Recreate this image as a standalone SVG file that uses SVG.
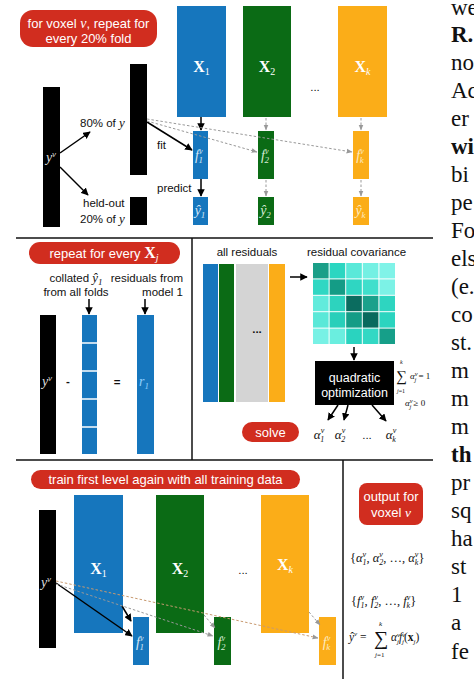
<svg xmlns="http://www.w3.org/2000/svg" width="474" height="679" viewBox="0 0 474 679">
<defs>
<style>
.pill{fill:#d12d1f}
.pt{font-family:"Liberation Sans",Arial,sans-serif;font-size:13px;fill:#fff;text-anchor:middle}
.lb{font-family:"Liberation Sans",Arial,sans-serif;font-size:11.5px;fill:#111}
.mid{text-anchor:middle}
.end{text-anchor:end}
.mi{font-family:"Liberation Serif","Times New Roman",serif;font-style:italic}
.xl{font-family:"Liberation Serif","Times New Roman",serif;font-weight:bold;font-size:16px;fill:#fff;text-anchor:middle}
.sb{font-size:10px;font-weight:normal}
.blue{fill:#1676bd}
.green{fill:#0b6b15}
.orange{fill:#fbad18}
.blk{fill:#000}
.ml{font-family:"Liberation Serif","Times New Roman",serif;font-style:italic;text-anchor:middle}
.m{font-family:"Liberation Serif","Times New Roman",serif;font-style:italic;fill:#111}
.sep{stroke:#111;stroke-width:1.5;fill:none}
.arr{stroke:#000;stroke-width:1.5;fill:none;marker-end:url(#ah)}
.dsh{stroke:#999;stroke-width:1;stroke-dasharray:2.5 2;fill:none;marker-end:url(#ag)}
.dsht{stroke:#c89a70;stroke-width:1;stroke-dasharray:2.5 2;fill:none;marker-end:url(#ag)}
.col{font-family:"Liberation Serif","Times New Roman",serif;font-size:23px;fill:#111}
.bd{font-weight:bold}
.wt{fill:#fff;font-family:"Liberation Sans",Arial,sans-serif;font-size:12.5px;text-anchor:middle}
</style>
<marker id="ah" viewBox="0 0 10 10" refX="9" refY="5" markerWidth="5" markerHeight="5" orient="auto"><path d="M0,0L10,5L0,10z" fill="#000"/></marker>
<marker id="ag" viewBox="0 0 10 10" refX="9" refY="5" markerWidth="6" markerHeight="6" orient="auto"><path d="M0,1L10,5L0,9z" fill="#999"/></marker>
</defs>
<rect width="474" height="679" fill="#fff"/>

<g id="separators">
<line class="sep" x1="16" y1="238" x2="433" y2="238"/>
<line class="sep" x1="192" y1="238" x2="192" y2="460"/>
<line class="sep" x1="16" y1="460" x2="433" y2="460"/>
<line class="sep" x1="343" y1="460" x2="343" y2="679"/>
</g>

<!-- ===== TOP SECTION ===== -->
<g id="banner-fold">
<rect class="pill" x="20" y="10" width="137" height="37" rx="13"/>
<text class="pt" x="88.5" y="27.5">for voxel <tspan class="mi" font-size="14">v</tspan>, repeat for</text>
<text class="pt" x="88.5" y="43">every 20% fold</text>
</g>
<g id="X1-top"><rect class="blue" x="177" y="6" width="49" height="111"/><text class="xl" x="201.5" y="72">X<tspan class="sb" dy="3">1</tspan></text></g>
<g id="X2-top"><rect class="green" x="243" y="6" width="48" height="111"/><text class="xl" x="267" y="72">X<tspan class="sb" dy="3">2</tspan></text></g>
<g id="dots-top"><text class="lb mid" x="315" y="91" font-size="11">...</text></g>
<g id="Xk-top"><rect class="orange" x="338" y="6" width="49" height="111"/><text class="xl" x="362.5" y="72">X<tspan class="sb mi" dy="3">k</tspan></text></g>

<g id="y-top"><rect class="blk" x="43" y="87" width="17" height="140"/><text class="ml" x="51" y="162" font-size="14" fill="#ddd">y<tspan font-size="9" dy="-5">v</tspan></text></g>
<g id="y80"><rect class="blk" x="130" y="64" width="17" height="111"/></g>
<g id="y20"><rect class="blk" x="130" y="197" width="17" height="28"/></g>
<text class="lb" x="80" y="127">80% of <tspan class="mi" font-size="13">y</tspan></text>
<text class="lb" x="83" y="207">held-out</text>
<text class="lb" x="80" y="223">20% of <tspan class="mi" font-size="13">y</tspan></text>
<text class="lb" x="157" y="149">fit</text>
<text class="lb" x="157" y="192">predict</text>

<g id="f1-top"><rect class="blue" x="193" y="131" width="15" height="48"/><text class="ml" x="199" y="160" font-size="14" fill="#d6e8f6">f<tspan font-size="8" dy="-6">v</tspan><tspan font-size="9" dx="-4" dy="9">1</tspan></text></g>
<g id="f2-top"><rect class="green" x="258" y="131" width="16" height="48"/><text class="ml" x="265" y="160" font-size="14" fill="#d6ecd6">f<tspan font-size="8" dy="-6">v</tspan><tspan font-size="9" dx="-4" dy="9">2</tspan></text></g>
<g id="fk-top"><rect class="orange" x="353" y="131" width="16" height="48"/><text class="ml" x="360" y="160" font-size="14" fill="#fdebc0">f<tspan font-size="8" dy="-6">v</tspan><tspan font-size="9" dx="-4" dy="9">k</tspan></text></g>
<g id="yh1-top"><rect class="blue" x="193" y="197" width="15" height="28"/><text class="ml" x="200" y="215" font-size="14" fill="#d6e8f6">ŷ<tspan font-size="9" dy="3">1</tspan></text></g>
<g id="yh2-top"><rect class="green" x="258" y="197" width="16" height="28"/><text class="ml" x="265.5" y="215" font-size="14" fill="#d6ecd6">ŷ<tspan font-size="9" dy="3">2</tspan></text></g>
<g id="yhk-top"><rect class="orange" x="353" y="197" width="16" height="28"/><text class="ml" x="360.5" y="215" font-size="14" fill="#fdebc0">ŷ<tspan font-size="9" dy="3">k</tspan></text></g>

<!-- ===== MIDDLE LEFT ===== -->
<g id="banner-repeat">
<rect class="pill" x="29" y="242" width="151" height="22" rx="11"/>
<text class="pt" x="104" y="258">repeat for every <tspan font-family="Liberation Serif,serif" font-weight="bold" font-size="16">X</tspan><tspan class="mi" font-size="10" dy="3">j</tspan></text>
</g>
<text class="lb mid" x="76" y="282">collated <tspan class="mi" font-size="13">ŷ</tspan><tspan class="mi" font-size="9" dy="3">1</tspan></text>
<text class="lb mid" x="76" y="296">from all folds</text>
<text class="lb end" x="183" y="282">residuals from</text>
<text class="lb end" x="183" y="296">model 1</text>
<g id="y-mid"><rect class="blk" x="40" y="315" width="16" height="139"/><text class="ml" x="47" y="386" font-size="14" fill="#ddd">y<tspan font-size="9" dy="-5">v</tspan></text></g>
<text class="lb mid bd" x="68" y="385" font-size="14">-</text>
<g id="yhat-collated"><rect class="blue" x="82" y="315" width="15" height="139"/>
<g stroke="#fff" stroke-width="1.5"><line x1="82" y1="343" x2="97" y2="343"/><line x1="82" y1="371" x2="97" y2="371"/><line x1="82" y1="399" x2="97" y2="399"/><line x1="82" y1="427" x2="97" y2="427"/></g></g>
<text class="lb mid bd" x="117" y="386" font-size="14">=</text>
<g id="r1"><rect class="blue" x="137" y="315" width="17" height="139"/><text class="ml" x="144" y="386" font-size="14" fill="#8fd0ff">r<tspan font-size="9" dy="3">1</tspan></text></g>

<!-- ===== MIDDLE RIGHT ===== -->
<text class="lb mid" x="247" y="256">all residuals</text>
<text class="lb" x="307" y="256">residual covariance</text>
<g id="all-residuals">
<rect class="blue" x="203" y="264" width="15" height="138"/>
<rect class="green" x="219" y="264" width="15" height="138"/>
<rect fill="#d4d4d4" x="236" y="264" width="32" height="138"/>
<rect class="orange" x="269" y="264" width="16" height="138"/>
<text class="lb mid bd" x="257" y="333" font-size="12">...</text>
</g>
<g id="covariance">
<rect x="313" y="263" width="15.6" height="15.4" fill="#1a9f88"/><rect x="329.6" y="263" width="15.6" height="15.4" fill="#2bd6c1"/><rect x="346.2" y="263" width="15.6" height="15.4" fill="#5ae9d9"/><rect x="362.8" y="263" width="15.6" height="15.4" fill="#74f0e3"/><rect x="379.4" y="263" width="15.6" height="15.4" fill="#80f3e8"/>
<rect x="313" y="279.4" width="15.6" height="15.4" fill="#30d7c3"/><rect x="329.6" y="279.4" width="15.6" height="15.4" fill="#149c86"/><rect x="346.2" y="279.4" width="15.6" height="15.4" fill="#2fd6c2"/><rect x="362.8" y="279.4" width="15.6" height="15.4" fill="#40dfcc"/><rect x="379.4" y="279.4" width="15.6" height="15.4" fill="#7cf2e6"/>
<rect x="313" y="295.8" width="15.6" height="15.4" fill="#62ebdc"/><rect x="329.6" y="295.8" width="15.6" height="15.4" fill="#2dd3be"/><rect x="346.2" y="295.8" width="15.6" height="15.4" fill="#0b6c5f"/><rect x="362.8" y="295.8" width="15.6" height="15.4" fill="#1aa18b"/><rect x="379.4" y="295.8" width="15.6" height="15.4" fill="#2ed5c0"/>
<rect x="313" y="312.2" width="15.6" height="15.4" fill="#5ae8d8"/><rect x="329.6" y="312.2" width="15.6" height="15.4" fill="#28cfba"/><rect x="346.2" y="312.2" width="15.6" height="15.4" fill="#149c86"/><rect x="362.8" y="312.2" width="15.6" height="15.4" fill="#096a5e"/><rect x="379.4" y="312.2" width="15.6" height="15.4" fill="#2bd4bf"/>
<rect x="313" y="328.6" width="15.6" height="15.4" fill="#78f1e5"/><rect x="329.6" y="328.6" width="15.6" height="15.4" fill="#6aeedf"/><rect x="346.2" y="328.6" width="15.6" height="15.4" fill="#2ad3bf"/><rect x="362.8" y="328.6" width="15.6" height="15.4" fill="#33d8c4"/><rect x="379.4" y="328.6" width="15.6" height="15.4" fill="#169f89"/>
</g>
<g id="quadratic">
<rect class="blk" x="315" y="361" width="79" height="44"/>
<text class="wt" x="354.5" y="382">quadratic</text>
<text class="wt" x="354.5" y="397">optimization</text>
</g>
<g id="constraints">
<text class="m" x="396" y="381" font-size="15" font-style="normal">∑</text>
<text class="m" x="400" y="364" font-size="6">k</text>
<text class="m" x="397" y="393" font-size="6">j<tspan font-style="normal">=1</tspan></text>
<text class="m" x="410" y="379" font-size="9">α<tspan font-size="6.5" dy="-3.5">v</tspan><tspan font-size="6.5" dx="-3.2" dy="6">j</tspan><tspan font-style="normal" dy="-2.5"> = 1</tspan></text>
<text class="m" x="405" y="406" font-size="9">α<tspan font-size="6.5" dy="-3.5">v</tspan><tspan font-size="6.5" dx="-3.2" dy="6">j</tspan><tspan font-style="normal" dy="-2.5"> ≥ 0</tspan></text>
</g>
<g id="alphas">
<text class="ml" x="319" y="439" font-size="13" fill="#111">α<tspan font-size="8" dy="-6">v</tspan><tspan font-size="8" dx="-4" dy="9">1</tspan></text>
<text class="ml" x="340" y="439" font-size="13" fill="#111">α<tspan font-size="8" dy="-6">v</tspan><tspan font-size="8" dx="-4" dy="9">2</tspan></text>
<text class="lb mid" x="367" y="439">...</text>
<text class="ml" x="391" y="439" font-size="13" fill="#111">α<tspan font-size="8" dy="-6">v</tspan><tspan font-size="8" dx="-4" dy="9">k</tspan></text>
</g>
<g id="solve"><rect class="pill" x="242" y="422" width="57" height="20" rx="10"/><text class="pt" x="270.5" y="437">solve</text></g>

<!-- ===== BOTTOM ===== -->
<g id="banner-train"><rect class="pill" x="31" y="470" width="269" height="19" rx="9.5"/><text class="pt" x="165.5" y="484">train first level again with all training data</text></g>
<g id="y-bot"><rect class="blk" x="39" y="510" width="17" height="138"/><text class="ml" x="46" y="587" font-size="14" fill="#ddd">y<tspan font-size="9" dy="-5">v</tspan></text></g>
<g id="X1-bot"><rect class="blue" x="74" y="495" width="49" height="138"/><text class="xl" x="98.5" y="574">X<tspan class="sb" dy="3">1</tspan></text></g>
<g id="X2-bot"><rect class="green" x="156" y="495" width="48" height="138"/><text class="xl" x="180" y="574">X<tspan class="sb" dy="3">2</tspan></text></g>
<g id="dots-bot"><text class="lb mid" x="243" y="574" font-size="11">...</text></g>
<g id="Xk-bot"><rect class="orange" x="261" y="495" width="48" height="138"/><text class="xl" x="285" y="570">X<tspan class="sb mi" dy="3">k</tspan></text></g>
<g id="f1-bot"><rect class="blue" x="133" y="617" width="16" height="48"/><text class="ml" x="140" y="647" font-size="14" fill="#d6e8f6">f<tspan font-size="8" dy="-6">v</tspan><tspan font-size="9" dx="-4" dy="9">1</tspan></text></g>
<g id="f2-bot"><rect class="green" x="214" y="617" width="17" height="48"/><text class="ml" x="221.5" y="647" font-size="14" fill="#d6ecd6">f<tspan font-size="8" dy="-6">v</tspan><tspan font-size="9" dx="-4" dy="9">2</tspan></text></g>
<g id="fk-bot"><rect class="orange" x="319" y="617" width="17" height="48"/><text class="ml" x="326.5" y="647" font-size="14" fill="#fdebc0">f<tspan font-size="8" dy="-6">v</tspan><tspan font-size="9" dx="-4" dy="9">k</tspan></text></g>

<g id="output">
<rect class="pill" x="359" y="483" width="64" height="42" rx="8"/>
<text class="pt" x="391" y="501" font-size="12.5">output for</text>
<text class="pt" x="391" y="517" font-size="12.5">voxel <tspan class="mi" font-size="13.5">v</tspan></text>
<text class="m" x="350" y="562" font-size="12.5"><tspan font-style="normal">{</tspan>α<tspan font-size="8" dy="-5">v</tspan><tspan font-size="8" dx="-3.6" dy="8">1</tspan><tspan font-style="normal" dy="-3">, </tspan>α<tspan font-size="8" dy="-5">v</tspan><tspan font-size="8" dx="-3.6" dy="8">2</tspan><tspan font-style="normal" dy="-3">, …, </tspan>α<tspan font-size="8" dy="-5">v</tspan><tspan font-size="8" dx="-3.6" dy="8">k</tspan><tspan font-style="normal" dy="-3">}</tspan></text>
<text class="m" x="351" y="605" font-size="12.5"><tspan font-style="normal">{</tspan>f<tspan font-size="8" dy="-5">v</tspan><tspan font-size="8" dx="-3.6" dy="8">1</tspan><tspan font-style="normal" dy="-3">, </tspan>f<tspan font-size="8" dy="-5">v</tspan><tspan font-size="8" dx="-3.6" dy="8">2</tspan><tspan font-style="normal" dy="-3">, …, </tspan>f<tspan font-size="8" dy="-5">v</tspan><tspan font-size="8" dx="-3.6" dy="8">k</tspan><tspan font-style="normal" dy="-3">}</tspan></text>
<text class="m" x="349" y="641" font-size="11.5">ŷ<tspan font-size="7" dy="-5">v</tspan><tspan font-style="normal" dy="5"> = </tspan></text>
<text class="m" x="374" y="645" font-size="20" font-style="normal">∑</text>
<text class="m" x="379" y="626" font-size="7">k</text>
<text class="m" x="375" y="657" font-size="7">j<tspan font-style="normal">=1</tspan></text>
<text class="m" x="391" y="641" font-size="11.5">α<tspan font-size="7" dy="-4">v</tspan><tspan font-size="7" dx="-3.2" dy="7">j</tspan><tspan dy="-3">f</tspan><tspan font-size="7" dy="-4">v</tspan><tspan font-size="7" dx="-3.2" dy="7">j</tspan><tspan font-style="normal" dy="-3">(</tspan><tspan font-style="normal" font-weight="bold">x</tspan><tspan font-size="7" dy="3">j</tspan><tspan font-style="normal" dy="-3">)</tspan></text>
</g>

<!-- ===== CONNECTORS ===== -->
<g id="connectors">
<line class="arr" x1="60" y1="153" x2="90" y2="132"/>
<line class="arr" x1="60" y1="167" x2="88" y2="195"/>
<line class="arr" x1="201" y1="117" x2="201" y2="130"/>
<line class="arr" x1="147" y1="122" x2="192" y2="150"/>
<line class="arr" x1="201" y1="179" x2="201" y2="196"/>
<line class="dsh" x1="147" y1="121" x2="257" y2="152"/>
<line class="dsh" x1="147" y1="119" x2="352" y2="152"/>
<line class="dsh" x1="266" y1="118" x2="266" y2="130"/>
<line class="dsh" x1="266" y1="180" x2="266" y2="196"/>
<line class="dsh" x1="361" y1="118" x2="361" y2="130"/>
<line class="dsh" x1="361" y1="180" x2="361" y2="196"/>
<line class="arr" x1="89" y1="299" x2="89" y2="314"/>
<line class="arr" x1="145" y1="299" x2="145" y2="314"/>
<line class="arr" x1="290" y1="277" x2="307" y2="277"/>
<line class="arr" x1="354" y1="347" x2="354" y2="360"/>
<line class="arr" x1="338" y1="405" x2="328" y2="420"/>
<line class="arr" x1="348" y1="405" x2="344" y2="420"/>
<line class="arr" x1="372" y1="405" x2="386" y2="421"/>
<line class="arr" x1="56" y1="583" x2="132" y2="636"/>
<line class="arr" x1="122" y1="606" x2="131" y2="621"/>
<line class="dsh" x1="56" y1="584" x2="213" y2="636"/>
<line class="dsht" x1="56" y1="581" x2="318" y2="638"/>
<line class="dsh" x1="204" y1="615" x2="215" y2="628"/>
<line class="dsh" x1="309" y1="612" x2="320" y2="625"/>
</g>

<!-- ===== TEXT COLUMN ===== -->
<g id="text-column" class="col">
<text x="451" y="15">we</text>
<text x="451" y="42" class="bd">R.</text>
<text x="451" y="70">no</text>
<text x="451" y="98">Ac</text>
<text x="451" y="126">er</text>
<text x="451" y="154" class="bd">wi</text>
<text x="451" y="182">bi</text>
<text x="451" y="210">pe</text>
<text x="451" y="238">Fo</text>
<text x="451" y="266">els</text>
<text x="451" y="294">(e.</text>
<text x="451" y="322">co</text>
<text x="451" y="350">st.</text>
<text x="451" y="378">m</text>
<text x="451" y="406">m</text>
<text x="451" y="434">m</text>
<text x="451" y="462" class="bd">th</text>
<text x="451" y="490">pr</text>
<text x="451" y="518">sq</text>
<text x="451" y="546">ha</text>
<text x="451" y="574">st</text>
<text x="451" y="602">1</text>
<text x="451" y="630">a</text>
<text x="451" y="659">fe</text>
</g>
</svg>
